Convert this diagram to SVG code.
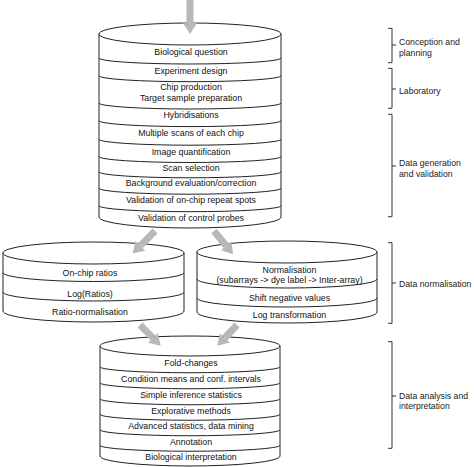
<svg xmlns="http://www.w3.org/2000/svg" width="474" height="467" viewBox="0 0 474 467">
<style>
.st{fill:#fff;stroke:#222;stroke-width:1}
.sep{fill:none;stroke:#222;stroke-width:1}
.t{font-family:"Liberation Sans",Arial,sans-serif;font-size:8.8px;fill:#111;text-anchor:middle}
.lb{font-family:"Liberation Sans",Arial,sans-serif;font-size:8.7px;fill:#222}
.br{fill:none;stroke:#333;stroke-width:1}
.ar{stroke:#b8b8b8;stroke-width:7;fill:none}
</style>
<defs>
<marker id="ah" markerUnits="userSpaceOnUse" markerWidth="11" markerHeight="14" refX="0" refY="7" orient="auto" viewBox="0 0 11 14">
<path d="M0,0 L11,7 L0,14 z" fill="#b8b8b8"/>
</marker>
</defs>
<rect width="474" height="467" fill="#fff"/>

<g id="stack-top">
<path class="st" d="M99,34 L99,217 A91,11 0 0 0 281,217 L281,34 Z"/>
<ellipse class="st" cx="190" cy="34" rx="91" ry="11"/>
<path class="sep" d="M99,58 A91,6 0 0 0 281,58 M99,75.7 A91,6 0 0 0 281,75.7 M99,103 A91,6 0 0 0 281,103 M99,120.6 A91,6 0 0 0 281,120.6 M99,139.2 A91,6 0 0 0 281,139.2 M99,156.5 A91,6 0 0 0 281,156.5 M99,171.8 A91,6 0 0 0 281,171.8 M99,188.2 A91,6 0 0 0 281,188.2 M99,205.7 A91,6 0 0 0 281,205.7"/>
<text class="t" x="191" y="54.9">Biological question</text>
<text class="t" x="191" y="73.9">Experiment design</text>
<text class="t" x="191" y="89.9">Chip production</text>
<text class="t" x="191" y="100.5">Target sample preparation</text>
<text class="t" x="191" y="117.7">Hybridisations</text>
<text class="t" x="191" y="135.9">Multiple scans of each chip</text>
<text class="t" x="191" y="154.9">Image quantification</text>
<text class="t" x="191" y="170.5">Scan selection</text>
<text class="t" x="191" y="185.5">Background evaluation/correction</text>
<text class="t" x="191" y="203.2">Validation of on-chip repeat spots</text>
<text class="t" x="191" y="220.5">Validation of control probes</text>
</g>

<g id="stack-ratios">
<path class="st" d="M3,253 L3,311 A90.5,11 0 0 0 184,311 L184,253 Z"/>
<ellipse class="st" cx="93.5" cy="253" rx="90.5" ry="11"/>
<path class="sep" d="M3,272.5 A90.5,9 0 0 0 184,272.5 M3,292 A90.5,9 0 0 0 184,292"/>
<text class="t" x="90" y="276.2">On-chip ratios</text>
<text class="t" x="90" y="297.2">Log(Ratios)</text>
<text class="t" x="90" y="315.2">Ratio-normalisation</text>
</g>

<g id="stack-normalisation">
<path class="st" d="M197,252 L197,312 A90,11 0 0 0 377,312 L377,252 Z"/>
<ellipse class="st" cx="287" cy="252" rx="90" ry="11"/>
<path class="sep" d="M197,279 A90,9 0 0 0 377,279 M197,298 A90,9 0 0 0 377,298"/>
<text class="t" x="289.5" y="272.7">Normalisation</text>
<text class="t" x="289.5" y="283.2">(subarrays -&gt; dye label -&gt; Inter-array)</text>
<text class="t" x="289.5" y="300.5">Shift negative values</text>
<text class="t" x="289.5" y="317.5">Log transformation</text>
</g>

<g id="stack-analysis">
<path class="st" d="M100,346 L100,456 A90,10 0 0 0 280,456 L280,346 Z"/>
<ellipse class="st" cx="190" cy="346" rx="90" ry="10"/>
<path class="sep" d="M100,366.75 A90,6 0 0 0 280,366.75 M100,382.75 A90,6 0 0 0 280,382.75 M100,398.75 A90,6 0 0 0 280,398.75 M100,414.25 A90,6 0 0 0 280,414.25 M100,429.75 A90,6 0 0 0 280,429.75 M100,445.25 A90,6 0 0 0 280,445.25"/>
<text class="t" x="191" y="366.2">Fold-changes</text>
<text class="t" x="191" y="381.7">Condition means and conf. intervals</text>
<text class="t" x="191" y="398.2">Simple inference statistics</text>
<text class="t" x="191" y="413.7">Explorative methods</text>
<text class="t" x="191" y="429.2">Advanced statistics, data mining</text>
<text class="t" x="191" y="444.7">Annotation</text>
<text class="t" x="191" y="460.2">Biological interpretation</text>
</g>

<g id="connectors">
<line class="ar" x1="190" y1="0" x2="190" y2="23" marker-end="url(#ah)"/>
<line class="ar" x1="155" y1="231" x2="140.5" y2="245.6" marker-end="url(#ah)"/>
<line class="ar" x1="214" y1="231" x2="226.1" y2="245.8" marker-end="url(#ah)"/>
<line class="ar" x1="140" y1="325" x2="152.9" y2="337.9" marker-end="url(#ah)"/>
<line class="ar" x1="237" y1="325" x2="224.9" y2="337.75" marker-end="url(#ah)"/>
</g>

<g id="phase-labels">
<path class="br" d="M388,28.3 H392 V62.7 H388 M392,45 H396"/>
<text class="lb" x="399" y="44.9">Conception and</text>
<text class="lb" x="399" y="55.5">planning</text>
<path class="br" d="M388,68.3 H392 V108.3 H388 M392,89 H396"/>
<text class="lb" x="399" y="93.9">Laboratory</text>
<path class="br" d="M388,114.3 H392 V216.7 H388 M392,166 H396"/>
<text class="lb" x="399" y="165.9">Data generation</text>
<text class="lb" x="399" y="176.5">and validation</text>
<path class="br" d="M388,242.7 H392 V323.3 H388 M392,283 H396"/>
<text class="lb" x="399" y="286.5">Data normalisation</text>
<path class="br" d="M388,341.7 H392 V448.3 H388 M392,396 H396"/>
<text class="lb" x="399" y="398.9">Data analysis and</text>
<text class="lb" x="399" y="408.9">interpretation</text>
</g>
</svg>
